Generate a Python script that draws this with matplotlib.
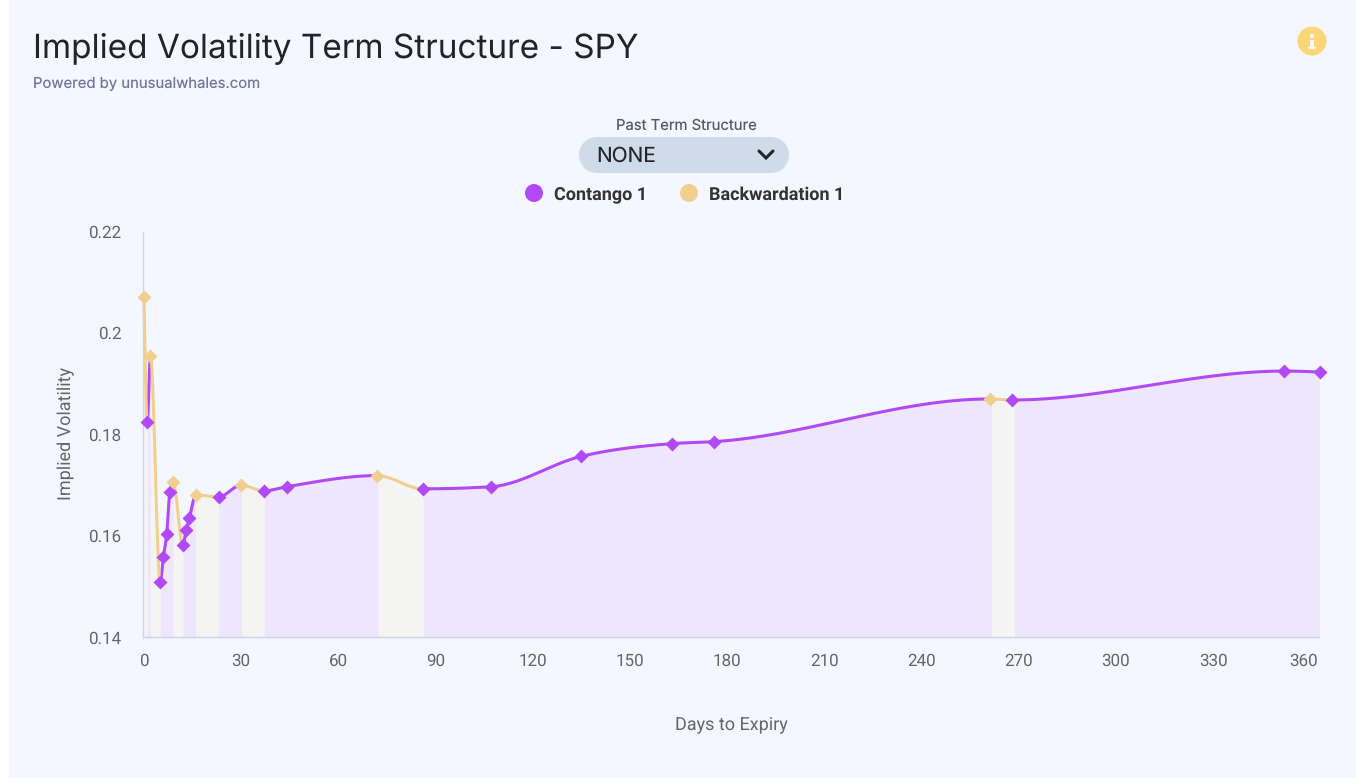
import numpy as np
import matplotlib
matplotlib.use("Agg")
import matplotlib.pyplot as plt
from matplotlib.patches import FancyBboxPatch, Circle, Rectangle
from matplotlib.transforms import ScaledTranslation

plt.rcParams["text.hinting"] = "none"
plt.rcParams["text.hinting_factor"] = 1

days = [0, 1, 2, 5, 6, 7, 8, 9, 12, 13, 14, 16, 23, 30, 37, 44, 72, 86, 107, 135, 163, 176, 261, 268, 352, 363]
iv = [0.2072, 0.1826, 0.1956, 0.151, 0.156, 0.1605, 0.1688, 0.1707, 0.1583, 0.1613, 0.1636, 0.1682, 0.1678,
      0.1701, 0.169, 0.1698, 0.172, 0.1694, 0.1698, 0.1758, 0.1783, 0.1787, 0.1871, 0.1869, 0.1926, 0.1924]
state = ["B", "C", "B", "C", "C", "C", "C", "B", "C", "C", "C", "B", "C",
         "B", "C", "C", "B", "C", "C", "C", "C", "C", "B", "C", "C", "C"]
xticks = list(range(0, 361, 30))
yticks = [0.14, 0.16, 0.18, 0.2, 0.22]
ylabels = ["0.14", "0.16", "0.18", "0.2", "0.22"]
series_names = ["Contango 1", "Backwardation 1"]

W, H = 1356, 778
PURPLE, YELLOW = "#b14af6", "#f0cf8f"
FILLS = {"C": "#eee6fd", "B": "#f4f4f3"}
LINES = {"C": PURPLE, "B": YELLOW}
PANEL = "#f4f7ff"
BAND_STRETCH = 1.0025

def monotone_curve(x, y, per_seg=40):
    x = np.asarray(x, float); y = np.asarray(y, float)
    h = np.diff(x); s = np.diff(y) / h
    m = np.zeros_like(x)
    for i in range(1, len(x) - 1):
        if s[i - 1] * s[i] > 0:
            p = (s[i - 1] * h[i] + s[i] * h[i - 1]) / (h[i - 1] + h[i])
            m[i] = np.sign(s[i]) * min(abs(s[i - 1]), abs(s[i]), 0.5 * abs(p)) * 2
    m[0] = (3 * s[0] - m[1]) / 2
    m[-1] = (3 * s[-1] - m[-2]) / 2
    out = []
    for i in range(len(h)):
        t = np.linspace(0, 1, per_seg)
        yy = ((2*t**3 - 3*t**2 + 1) * y[i] + (t**3 - 2*t**2 + t) * h[i] * m[i]
              + (-2*t**3 + 3*t**2) * y[i + 1] + (t**3 - t**2) * h[i] * m[i + 1])
        out.append((x[i] + t * h[i], yy))
    return out

fig = plt.figure(figsize=(W / 100, H / 100), dpi=100, facecolor="white")

bg = fig.add_axes([0, 0, 1, 1], zorder=0)
bg.set_xlim(0, W); bg.set_ylim(H, 0); bg.axis("off")
bg.add_patch(FancyBboxPatch((9, -30), W + 30, H + 60, boxstyle="round,pad=0,rounding_size=12",
                            fc=PANEL, ec="none"))
bg.text(33, 48.5, "Implied Volatility Term Structure - SPY", fontsize=24, family="Inter",
        color="#212529", va="center", ha="left")
bg.text(33, 84, "Powered by unusualwhales.com", fontsize=10.7, family="Inter",
        color="#70779a", va="center", ha="left")
bg.text(686, 125.5, "Past Term Structure", fontsize=10.7, family="Inter", color="#555a6b",
        va="center", ha="center")
bg.add_patch(Rectangle((597, 137), 174, 36, fc="#cfdbe9", ec="none"))
bg.add_patch(Circle((597, 155), 18, fc="#cfdbe9", ec="none"))
bg.add_patch(Circle((771, 155), 18, fc="#cfdbe9", ec="none"))
bg.text(596.5, 156, "NONE", fontsize=15, family="Inter", color="#212529", va="center", ha="left")
bg.plot([759, 766, 773], [151, 158, 151], color="#212529", lw=2.2, solid_capstyle="round",
        solid_joinstyle="miter")

bg.add_patch(Circle((534, 193), 9, fc=PURPLE, ec="none"))
bg.add_patch(Circle((689, 193), 9, fc=YELLOW, ec="none"))
bg.text(554, 195, series_names[0], fontsize=13, family="Roboto", weight="bold", color="#333333",
        va="center", ha="left")
bg.text(709, 195, series_names[1], fontsize=13, family="Roboto", weight="bold", color="#333333",
        va="center", ha="left")

bg.add_patch(Circle((1312, 41), 14.5, fc="#fcd677", ec="none"))
bg.add_patch(Circle((1312, 36), 2.2, fc=PANEL, ec="none"))
bg.add_patch(Rectangle((1310, 40), 4, 7, fc=PANEL, ec="none"))
bg.add_patch(Rectangle((1308, 46.5), 8, 2.5, fc=PANEL, ec="none"))

bg.text(66, 433, "Implied Volatility", rotation=90, fontsize=12.9, family="Roboto",
        color="#666666", va="center", ha="center")
bg.text(731, 725, "Days to Expiry", fontsize=12.9, family="Roboto", color="#666666",
        va="center", ha="center")

left, right, top, bottom = 144, 1319, 232, 638
ax = fig.add_axes([left / W, 1 - bottom / H, (right - left) / W, (bottom - top) / H], zorder=1)
ax.patch.set_alpha(0)
ax.set_xlim(0, (right - left) / 3.24)
ax.set_ylim(0.14, 0.22)

segs = monotone_curve(days, iv)
i = 0
while i < len(segs):
    j = i
    while j + 1 < len(segs) and state[j + 1] == state[i]:
        j += 1
    sx = np.concatenate([segs[k][0] for k in range(i, j + 1)])
    sy = np.concatenate([segs[k][1] for k in range(i, j + 1)])
    ax.fill_between(sx * BAND_STRETCH, 0.14, sy, color=FILLS[state[i]], lw=0, zorder=1)
    i = j + 1
for st in ("C", "B"):
    for i, (sx, sy) in enumerate(segs):
        if state[i] == st:
            ax.plot(sx, sy, color=LINES[st], lw=2.2, zorder=3, clip_on=False,
                    solid_capstyle="round", solid_joinstyle="round")
for st in ("C", "B"):
    xs = [d for d, s in zip(days, state) if s == st]
    ys = [v for v, s in zip(iv, state) if s == st]
    ax.plot(xs, ys, ls="none", marker="D", ms=7, mfc=LINES[st], mec="none", zorder=4, clip_on=False)

for name in ("top", "right"):
    ax.spines[name].set_visible(False)
for name in ("left", "bottom"):
    ax.spines[name].set_color("#ccd6eb")
    ax.spines[name].set_linewidth(1.0)
ax.spines["left"].set_transform(ax.spines["left"].get_transform()
                                + ScaledTranslation(-1 / 100, 0, fig.dpi_scale_trans))
ax.spines["bottom"].set_transform(ax.spines["bottom"].get_transform()
                                  + ScaledTranslation(0, 1 / 100, fig.dpi_scale_trans))
ax.set_xticks(xticks)
ax.set_yticks(yticks)
ax.set_yticklabels(ylabels)
ax.tick_params(length=0, labelsize=11.9, labelcolor="#666666")
for lab in ax.get_xticklabels() + ax.get_yticklabels():
    lab.set_fontfamily("Roboto")
ax.tick_params(axis="x", pad=10.5)
ax.tick_params(axis="y", pad=16.3)
for lab in ax.get_yticklabels():
    lab.set_transform(lab.get_transform() + ScaledTranslation(0, 1 / 100, fig.dpi_scale_trans))
last = ax.get_xticklabels()[-1]
last.set_ha("right")
last.set_transform(last.get_transform() + ScaledTranslation(7 / 100, 0, fig.dpi_scale_trans))

fig.savefig("out.png", dpi=100)
